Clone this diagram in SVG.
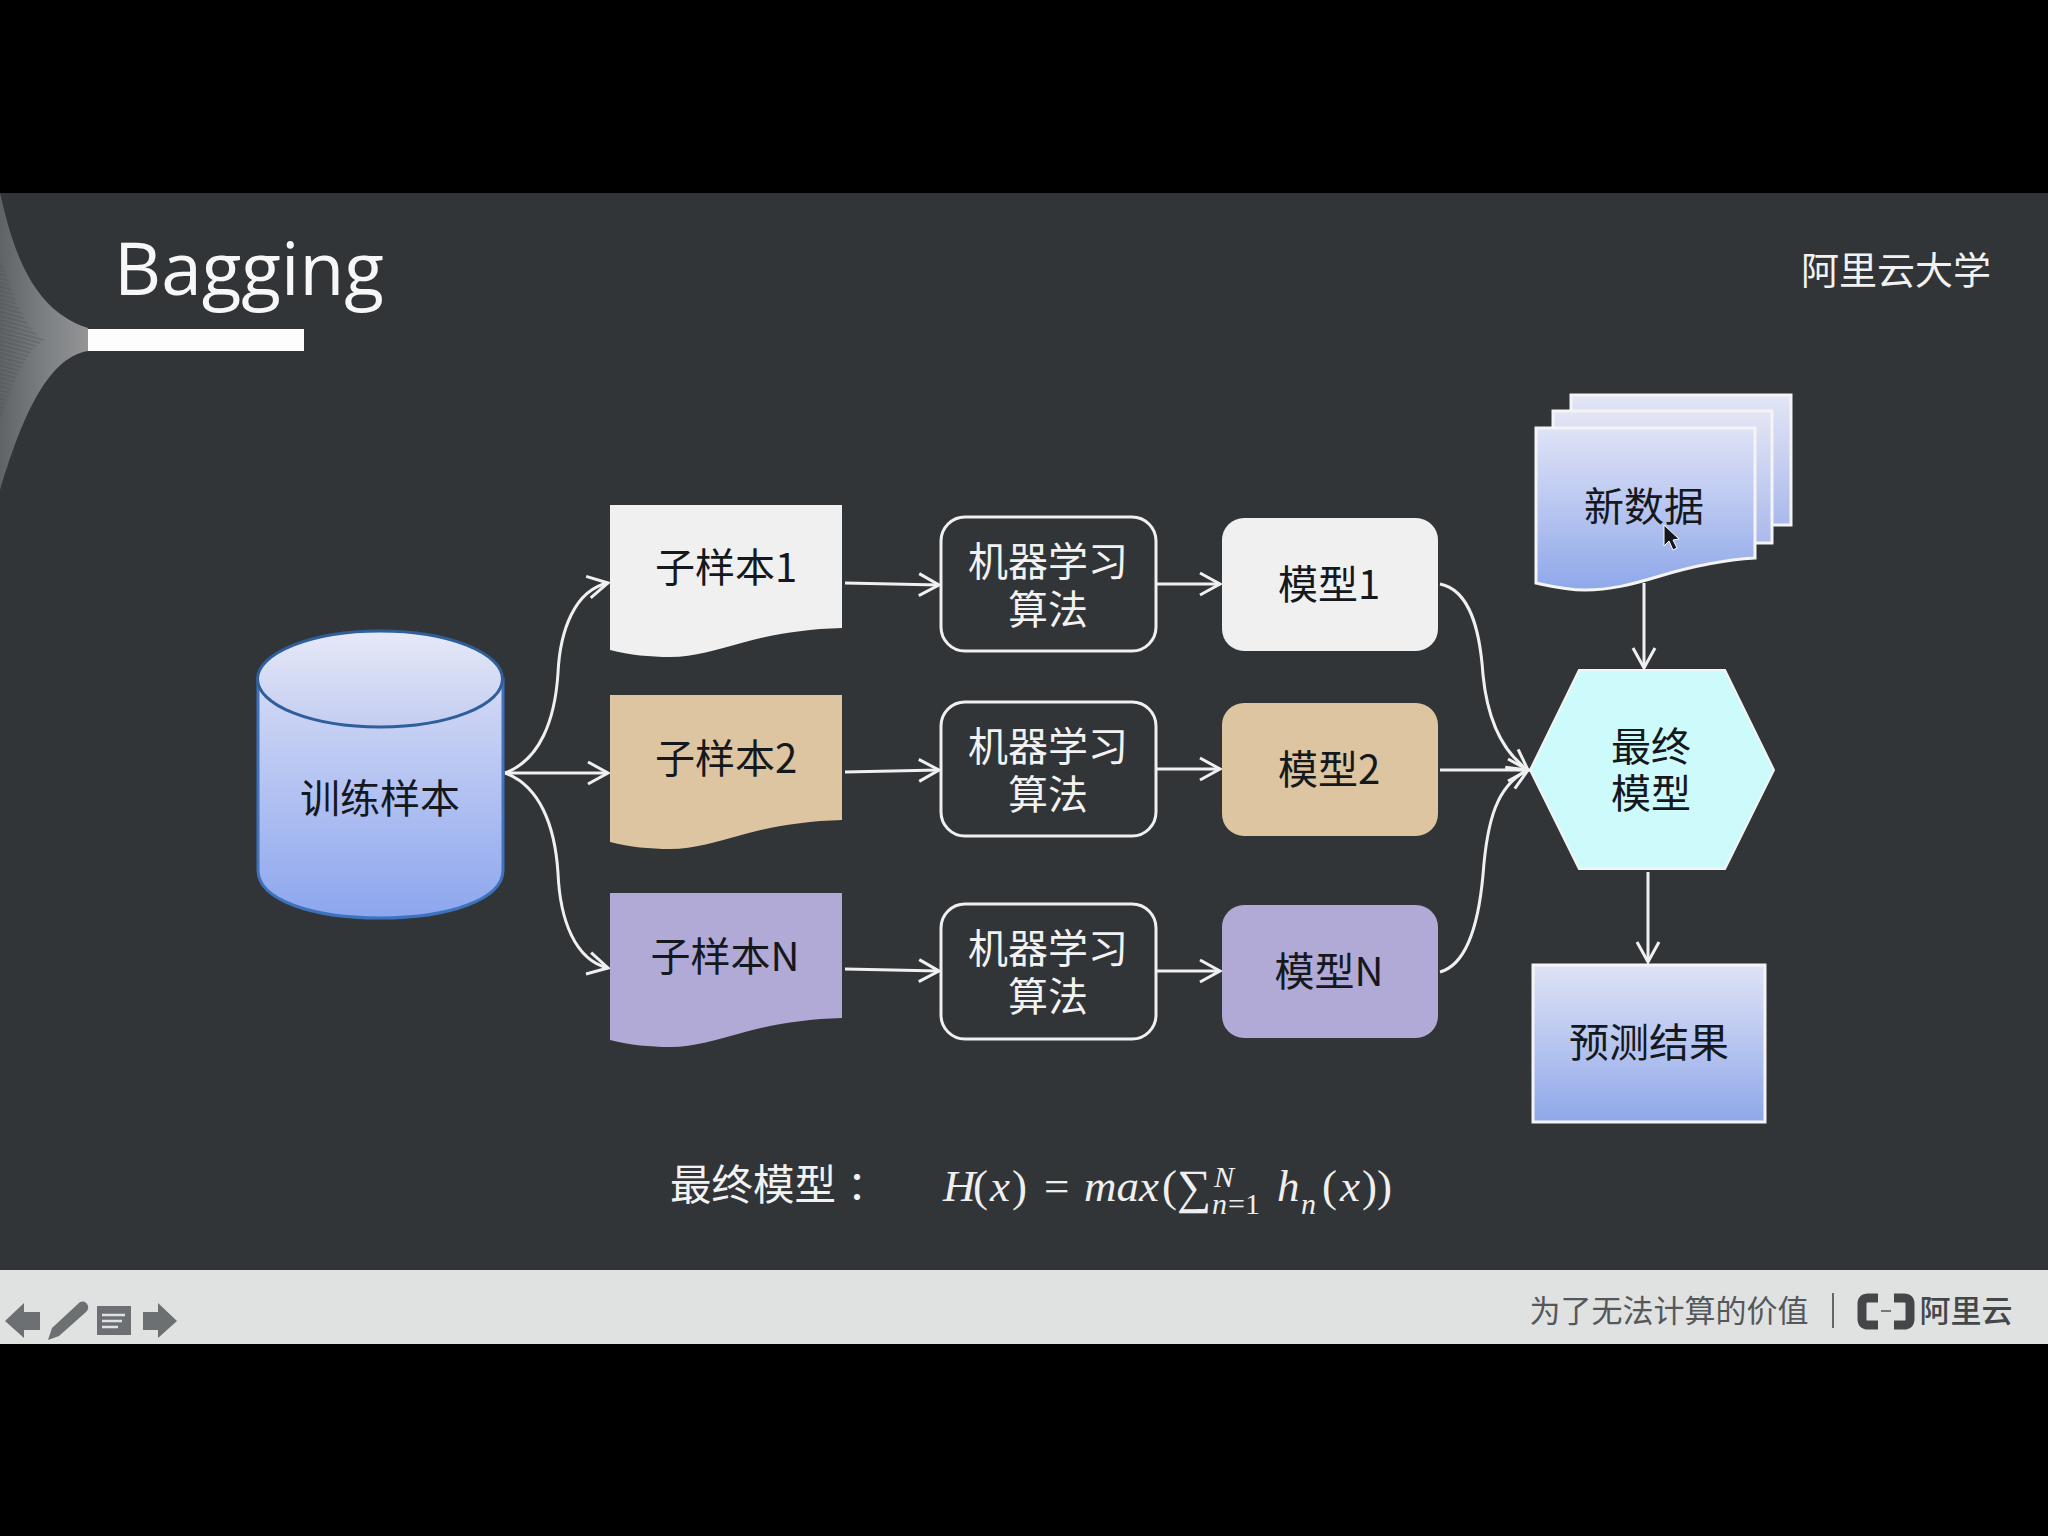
<svg xmlns="http://www.w3.org/2000/svg" width="2048" height="1536" viewBox="0 0 2048 1536">
<defs>
<linearGradient id="blue" x1="0" y1="0" x2="0" y2="1"><stop offset="0" stop-color="#dfe3f6"/><stop offset="1" stop-color="#8fa8ea"/></linearGradient>
<linearGradient id="pale" x1="0" y1="0" x2="0" y2="1"><stop offset="0" stop-color="#e4e6f5"/><stop offset="1" stop-color="#aab9ec"/></linearGradient>
<linearGradient id="cyl" x1="0" y1="0" x2="0" y2="1"><stop offset="0" stop-color="#d4daf5"/><stop offset="1" stop-color="#8ca6ee"/></linearGradient>
<linearGradient id="cyltop" x1="0" y1="0" x2="0" y2="1"><stop offset="0" stop-color="#e6e9f7"/><stop offset="1" stop-color="#c4cdf1"/></linearGradient>
<linearGradient id="fan" x1="0" y1="0" x2="1" y2="0"><stop offset="0" stop-color="#606366"/><stop offset="0.5" stop-color="#7c7f82"/><stop offset="1" stop-color="#929496"/></linearGradient>
<pattern id="lines" width="6" height="4" patternUnits="userSpaceOnUse" patternTransform="rotate(15)"><path d="M0,1 H6" stroke="#4a4d50" stroke-width="1"/></pattern>
<marker id="arrow" markerUnits="userSpaceOnUse" markerWidth="30" markerHeight="30" viewBox="0 0 30 30" refX="24" refY="15" orient="auto"><path d="M4,4 L24,15 L4,26" fill="none" stroke="#f0f0f0" stroke-width="3"/></marker>
</defs>
<style>
text{font-family:"Noto Sans CJK SC","Noto Sans",sans-serif;font-size:40px;text-anchor:middle;fill:#15181c}
.w{fill:#f2f2f2}
.c{fill:none;stroke:#f0f0f0;stroke-width:3;marker-end:url(#arrow)}
.algo{fill:none;stroke:#f0f0f0;stroke-width:3}
.m{font-family:"Liberation Serif",serif;font-size:45px;font-style:italic;fill:#efefef;text-anchor:start}
.n{font-style:normal}
.s{font-size:30px}
.foot{font-size:31px;fill:#55585a}
.icon{fill:#6d7072}
</style>
<rect width="2048" height="1536" fill="#000"/>
<rect y="193" width="2048" height="1151" fill="#323538"/>
<path d="M0,193 C12,245 30,310 88,328 L88,351 C45,358 20,425 0,490 Z" fill="url(#fan)"/>
<path d="M0,260 C15,300 25,330 45,340 C25,350 15,380 0,420 Z" fill="url(#lines)" opacity="0.6"/>
<rect x="88" y="329" width="216" height="22" fill="#fdfdfd"/>
<text x="114" y="295" style="font-family:'Open Sans',sans-serif;font-size:73px;text-anchor:start;fill:#f7f7f7">Bagging</text>
<text x="1896" y="284" class="w" style="font-size:38px">阿里云大学</text>

<g id="connectors">
<path class="c" d="M505,773 C540,760 555,720 558,673 C560,630 575,590 608,583"/>
<path class="c" d="M505,773 L608,773"/>
<path class="c" d="M505,773 C540,786 555,826 558,873 C560,920 575,960 608,968"/>
<path class="c" d="M845,583 L939,585"/>
<path class="c" d="M845,772 L939,770"/>
<path class="c" d="M845,969 L939,971"/>
<path class="c" d="M1157,584 L1220,584"/>
<path class="c" d="M1157,769 L1220,769"/>
<path class="c" d="M1157,971 L1220,971"/>
<path class="c" d="M1440,584 C1470,590 1480,630 1483,675 C1487,715 1500,750 1528,770"/>
<path class="c" d="M1440,770 L1528,770"/>
<path class="c" d="M1440,972 C1465,965 1478,930 1483,875 C1487,820 1497,785 1528,770"/>
<path class="c" d="M1644,583 L1644,668"/>
<path class="c" d="M1648,872 L1648,962"/>
</g>

<g id="training">
<path d="M258,679 V870 C258,900 312,918 380,918 C448,918 503,900 503,870 V679 Z" fill="url(#cyl)" stroke="#3f72bd" stroke-width="3"/>
<ellipse cx="380" cy="679" rx="122.500" ry="48" fill="url(#cyltop)" stroke="#2f5e9c" stroke-width="3"/>
<text x="380" y="813">训练样本</text>
</g>
<g id="sample1">
<path d="M610,505 H842 V628 C805,629 775,634 745,642 C715,650 695,657 670,657 C650,657 630,655 610,650 Z" fill="#f0f0f0"/>
<text x="726" y="582">子样本1</text>
</g>
<g id="sample2">
<path d="M610,695 H842 V820 C805,821 775,826 745,834 C715,842 695,849 670,849 C650,849 630,847 610,842 Z" fill="#dcc5a0"/>
<text x="726" y="773">子样本2</text>
</g>
<g id="sampleN">
<path d="M610,893 H842 V1018 C805,1019 775,1024 745,1032 C715,1040 695,1047 670,1047 C650,1047 630,1045 610,1040 Z" fill="#b1a9d6"/>
<text x="725" y="971">子样本N</text>
</g>
<g id="algo1">
<rect class="algo" x="941" y="517" width="215" height="134" rx="24"/>
<text class="w" x="1048" y="576">机器学习</text>
<text class="w" x="1048" y="624">算法</text>
</g>
<g id="algo2">
<rect class="algo" x="941" y="702" width="215" height="134" rx="24"/>
<text class="w" x="1048" y="761">机器学习</text>
<text class="w" x="1048" y="809">算法</text>
</g>
<g id="algoN">
<rect class="algo" x="941" y="904" width="215" height="135" rx="24"/>
<text class="w" x="1048" y="963">机器学习</text>
<text class="w" x="1048" y="1011">算法</text>
</g>
<g id="model1">
<rect x="1222" y="518" width="216" height="133" rx="22" fill="#f0f0f0"/>
<text x="1329" y="599">模型1</text>
</g>
<g id="model2">
<rect x="1222" y="703" width="216" height="133" rx="22" fill="#dcc5a0"/>
<text x="1329" y="784">模型2</text>
</g>
<g id="modelN">
<rect x="1222" y="905" width="216" height="133" rx="22" fill="#b1a9d6"/>
<text x="1329" y="986">模型N</text>
</g>
<g id="newdata" stroke="#f4f4f4" stroke-width="3">
<path d="M1571,395 H1791 V525 H1571 Z" fill="url(#pale)"/>
<path d="M1553,411 H1772 V543 H1553 Z" fill="url(#pale)"/>
<path d="M1536,428 H1755 V558 C1720,560 1690,567 1660,576 C1630,585 1610,590 1585,590 C1565,590 1550,586 1536,583 Z" fill="url(#blue)"/>
<text x="1644" y="521" stroke="none">新数据</text>
<path d="M1664,525 V546 L1669,541 L1673,550 L1677,548 L1673,540 L1679,539 Z" fill="#15181c" stroke="#fff" stroke-width="1"/>
</g>
<g id="final">
<path d="M1530,770 L1579,670 H1725 L1774,770 L1725,869 H1579 Z" fill="#cdfbfb" stroke="#f4f4f4" stroke-width="2"/>
<text x="1651" y="761">最终</text>
<text x="1651" y="808">模型</text>
</g>
<g id="result">
<rect x="1533" y="965" width="232" height="157" fill="url(#blue)" stroke="#f4f4f4" stroke-width="3"/>
<text x="1649" y="1057">预测结果</text>
</g>
<g id="formula">
<text class="w" x="670" y="1200" style="text-anchor:start;font-size:41.500px">最终模型<tspan x="837" y="1202" style="font-family:'Noto Sans CJK TC',sans-serif;font-size:40px">：</tspan></text>
<text class="m" x="943" y="1201">H</text>
<text class="m n" x="973" y="1201">(</text>
<text class="m" x="990" y="1201">x</text>
<text class="m n" x="1012" y="1201">)</text>
<text class="m n" x="1044" y="1201">=</text>
<text class="m" x="1084" y="1201">max</text>
<text class="m n" x="1162" y="1201">(</text>
<text class="m n" x="1177" y="1203" style="font-size:48px">∑</text>
<text class="m s" x="1214" y="1187">N</text>
<text class="m s" x="1212" y="1214">n</text>
<text class="m n s" x="1228" y="1214">=1</text>
<text class="m" x="1277" y="1201">h</text>
<text class="m s" x="1301" y="1214">n</text>
<text class="m n" x="1322" y="1201">(</text>
<text class="m" x="1340" y="1201">x</text>
<text class="m n" x="1362" y="1201">))</text>
</g>
<g id="footer">
<rect y="1270" width="2048" height="74" fill="#e0e2e2"/>
<path class="icon" d="M5,1321 L24,1303 V1312 H40 V1330 H24 V1338 Z"/>
<path class="icon" d="M48,1340 L52,1328 L80,1302 Q86,1300 88,1306 Q89,1309 86,1312 L59,1336 Z"/>
<rect class="icon" x="97" y="1306" width="34" height="29"/>
<path d="M102,1315 H125 M102,1321 H122 M102,1327 H118" stroke="#e0e2e2" stroke-width="2.500"/>
<path class="icon" d="M177,1321 L158,1303 V1312 H143 V1330 H158 V1338 Z"/>
<text class="foot" x="1669" y="1322">为了无法计算的价值</text>
<path d="M1833,1293 V1328" stroke="#666" stroke-width="2"/>
<path d="M1878,1298 H1868 Q1862,1298 1862,1304 V1319 Q1862,1325 1868,1325 H1878 M1894,1298 H1904 Q1910,1298 1910,1304 V1319 Q1910,1325 1904,1325 H1894" fill="none" stroke="#44474a" stroke-width="9"/>
<path d="M1881,1311 H1891" stroke="#777" stroke-width="2"/>
<text class="foot" x="1966" y="1322" style="fill:#44474a;font-weight:500">阿里云</text>
</g>
</svg>
